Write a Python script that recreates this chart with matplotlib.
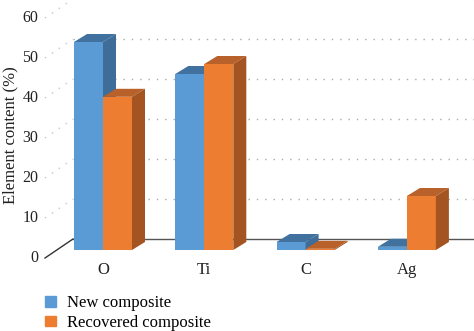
import matplotlib
matplotlib.use("Agg")
import matplotlib.pyplot as plt
from matplotlib.patches import Polygon, Patch
import numpy as np

categories = ["O", "Ti", "C", "Ag"]
new_composite = [52.0, 44.0, 2.0, 0.8]
recovered_composite = [38.3, 46.5, 0.3, 13.5]
series_names = ["New composite", "Recovered composite"]
y_ticks = [0, 10, 20, 30, 40, 50, 60]

FONT = "Liberation Serif"
FS = 12
FS_TICK = 11.5

# colours: front, top, side
blue = ("#5B9BD5", "#41729F", "#3F6D99")
orange = ("#ED7D31", "#B9612A", "#A45420")

W, H = 474, 331
fig = plt.figure(figsize=(W / 100, H / 100), dpi=100)
ax = fig.add_axes([0, 0, 1, 1])

# pixel mapping helpers (layout only)
px_per_cat = 101.3
px_per_val = 4.0
x0_px, y0_px = 103.0, 250.0
ax.set_xlim((0 - x0_px) / px_per_cat, (W - x0_px) / px_per_cat)
ax.set_ylim((y0_px - H) / px_per_val, y0_px / px_per_val)
ax.axis("off")

def px_x(p):
    return (p - x0_px) / px_per_cat

def px_dy(p):
    return p / px_per_val

bw = 29 / px_per_cat
ddx, ddy = 13 / px_per_cat, px_dy(8)          # bar depth
wall_dy = px_dy(11)                            # back wall offset
floor_front_dy = px_dy(-8)                     # front of floor (tick labels)
x_wall = px_x(73)
x_front = px_x(45)

# back wall gridlines and diagonal tick connectors
for v in y_ticks:
    yw = v + wall_dy
    yf = v + floor_front_dy
    if v == 0:
        ax.plot([x_wall, ax.get_xlim()[1]], [yw, yw], color="#555555", lw=1.0, zorder=1)
        ax.plot([x_front, x_wall], [yf, yw], color="#333333", lw=1.0, zorder=1)
    else:
        c = "#AAAAAA" if v < 60 else "#E4E4E4"
        ax.plot([x_wall, ax.get_xlim()[1]], [yw, yw], color=c, lw=1.0,
                ls=(0, (1, 5)), zorder=1)
        ax.plot([x_front, x_wall], [yf, yw], color="#C8C8C8", lw=1.0,
                ls=(0, (1, 5)), zorder=1)
    ax.text(px_x(38.5), yf, str(v), ha="right", va="center",
            fontsize=FS_TICK, family=FONT, color="#222222")

x = np.arange(len(categories))

def draw_bars(lefts, vals, cols, z):
    ax.bar(lefts, vals, width=bw, align="edge", color=cols[0], lw=0, zorder=z)
    for l, v in zip(lefts, vals):
        top = [(l, v), (l + bw, v), (l + bw + ddx, v + ddy), (l + ddx, v + ddy)]
        side = [(l + bw, 0), (l + bw + ddx, ddy), (l + bw + ddx, v + ddy), (l + bw, v)]
        ax.add_patch(Polygon(top, closed=True, fc=cols[1], lw=0, zorder=z))
        ax.add_patch(Polygon(side, closed=True, fc=cols[2], lw=0, zorder=z))

draw_bars(x - bw, new_composite, blue, 2)
draw_bars(x, recovered_composite, orange, 3)

for xi, c in zip(x, categories):
    ax.text(xi, px_dy(-20), c, ha="center", va="center", fontsize=FS,
            family=FONT, color="#222222")

ax.text(px_x(10), px_dy(250 - 135), "Element content (%)", rotation=90,
        ha="center", va="center", fontsize=FS, family=FONT, color="#222222")

handles = [Patch(color=blue[0]), Patch(color=orange[0])]
fig.legend(handles, series_names, loc="upper left",
           bbox_to_anchor=(45 / W, 1 - 295 / H), frameon=False,
           prop={"family": FONT, "size": FS}, handlelength=0.66,
           handleheight=0.62, handletextpad=0.66, labelspacing=0.23,
           borderpad=0, borderaxespad=0)

fig.savefig("out.png", dpi=100)
